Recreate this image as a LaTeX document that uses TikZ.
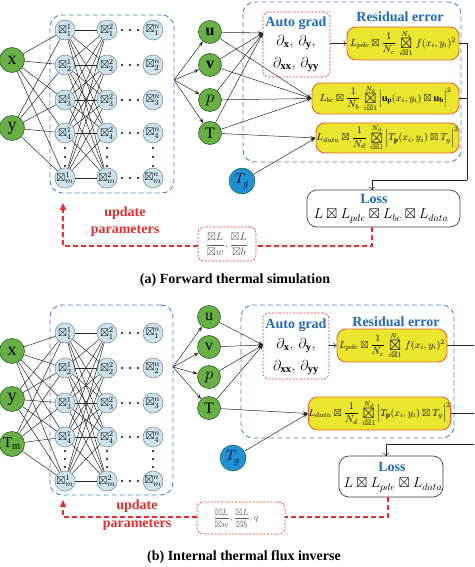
\documentclass[tikz,border=0pt]{standalone}
\usepackage{amsmath,amssymb}
\usepackage{fontspec}
\setmainfont{Liberation Serif}
\usetikzlibrary{arrows.meta,calc}
\definecolor{ngreen}{RGB}{104,176,70}
\definecolor{ngreenD}{RGB}{45,95,35}
\definecolor{nblue}{RGB}{204,228,238}
\definecolor{dblue}{RGB}{70,130,200}
\definecolor{tblue}{RGB}{30,105,185}
\definecolor{tgblue}{RGB}{30,145,215}
\definecolor{yel}{RGB}{234,230,45}
\definecolor{yelB}{RGB}{228,100,45}
\definecolor{rred}{RGB}{226,45,45}
\definecolor{ggray}{RGB}{90,90,90}
\newcommand{\bigbx}{\mathop{\vcenter{\hbox{\scalebox{1.5}{$\boxtimes$}}}}\limits}
\begin{document}
\begin{tikzpicture}[x=1pt,y=-1pt,
  innode/.style={circle,fill=ngreen,draw=ngreenD,line width=0.6pt,minimum size=25pt,inner sep=0pt,font=\fontsize{18}{18}\selectfont},
  outnode/.style={circle,fill=ngreen,draw=ngreenD,line width=0.6pt,minimum size=23pt,inner sep=0pt,font=\fontsize{16}{16}\selectfont},
  hid/.style={circle,fill=nblue,draw=gray,line width=0.5pt,minimum size=20pt,inner sep=0pt,font=\fontsize{11}{11}\selectfont},
  tgnode/.style={circle,fill=tgblue,draw=ngreenD,line width=0.5pt,minimum size=26pt,inner sep=0pt,font=\fontsize{14}{14}\selectfont},
  res/.style={rounded corners=9pt,fill=yel,draw=yelB,line width=0.9pt,inner sep=0pt,font=\fontsize{10}{12}\selectfont},
  grp/.style={draw=dblue,dash pattern=on 5pt off 3pt,rounded corners=12pt,line width=0.9pt},
  agbox/.style={draw=rred,dash pattern=on 2pt off 1.5pt,rounded corners=6pt,line width=0.6pt,inner sep=0pt},
  lossbox/.style={draw=black!75,rounded corners=10pt,line width=0.7pt,inner sep=0pt},
  conn/.style={draw=black!85,line width=0.5pt},
  arr/.style={conn,-{Stealth[length=5pt,width=3.5pt]}},
  fb/.style={draw=rred,dash pattern=on 5pt off 3pt,line width=1.3pt},
  bluetxt/.style={text=tblue,font=\fontsize{14}{14}\selectfont\bfseries},
  redtxt/.style={text=rred,font=\fontsize{14}{14}\selectfont\bfseries},
  captxt/.style={font=\fontsize{14}{14}\selectfont\bfseries},
  dtxt/.style={font=\fontsize{15}{15}\selectfont,inner sep=0pt}
]
\useasboundingbox (0,0) rectangle (474,567);

%%%%%%%%%%%%%%%% (a) %%%%%%%%%%%%%%%%
\node[grp,minimum width=124pt,minimum height=178pt] (hbA) at (112,104) {};
\draw[grp] (243,2) rectangle (461,162);
\node[innode] (inAx) at (12,60) {x};
\node[innode] (inAy) at (12,128) {y};
\foreach \c/\cx/\colsup in {1/65/1,2/107/2,3/153/n}{
  \foreach \r/\ry/\rowsub in {1/30/1,2/65/2,3/100/3,4/133/4,5/178/m}{
    \node[hid] (hA\c\r) at (\cx,\ry) {$\boxtimes^{\colsup}_{\rowsub}$};
  }
  \foreach \dy in {148,157,166}{\fill (\cx,\dy) circle (1.1pt);}
}
\foreach \ry in {30,65,100,133,178}{\foreach \dx in {122,130,138}{\fill (\dx,\ry) circle (1.1pt);}}
\foreach \i in {x,y}{\foreach \r in {1,...,5}{\draw[conn] (inA\i) -- (hA1\r);}}
\foreach \r in {1,...,5}{\foreach \s in {1,...,5}{\draw[conn] (hA1\r) -- (hA2\s);}}

\node[outnode] (oAu) at (210,32) {$\mathbf{u}$};
\node[outnode] (oAv) at (210,65) {$\mathbf{v}$};
\node[outnode] (oAp) at (210,100) {$p$};
\node[outnode] (oAT) at (210,133) {T};
\coordinate (fanA) at (174,80);
\foreach \o in {u,v,p,T}{\draw[arr] (fanA) -- (oA\o);}

\node[agbox,minimum width=67pt,minimum height=65pt] (agA) at (296.5,44.5) {};
\node[bluetxt] (agtA) at (296,23) {Auto grad};
\node[dtxt] (d1A) at (296,43) {$\partial_{\mathbf{x}},\,\partial_{\mathbf{y}},$};
\node[dtxt] (d2A) at (296,65) {$\partial_{\mathbf{xx}},\,\partial_{\mathbf{yy}}$};
\node[bluetxt] (retA) at (400,17) {Residual error};
\node[res,minimum width=112pt,minimum height=33pt] (pdeA) at (403,43.5)
  {$L_{pde}\boxtimes\dfrac{1}{N_c}\,\bigbx_{i\boxtimes1}^{N_c}\,f(x_i,y_i)^2$};
\node[res,minimum width=147pt,minimum height=31pt] (bcA) at (385.5,98.5)
  {$L_{bc}\boxtimes\dfrac{1}{N_b}\,\bigbx_{i\boxtimes1}^{N_b}\,\Bigl|\mathbf{u_p}(x_i,y_i)\boxtimes\mathbf{u_b}\Bigr|^2$};
\node[res,minimum width=143pt,minimum height=30pt] (dataA) at (387.5,138)
  {$L_{data}\boxtimes\dfrac{1}{N_d}\,\bigbx_{i\boxtimes1}^{N_d}\,\Bigl|T_{\mathbf{p}}(x_i,y_i)\boxtimes T_g\Bigr|^2$};
\node[tgnode] (tgA) at (242,181) {$T_g$};

\coordinate (agInA) at (263,33);
\foreach \o in {u,v,p,T}{\draw[arr] (oA\o) -- (agInA);}
\foreach \o in {u,v,p,T}{\draw[arr] (oA\o) -- (bcA.west);}
\draw[arr] (oAT) -- (dataA.west);
\draw[arr] (tgA) -- (dataA.west);
\draw[conn,-{To[length=3pt]}] (agA.east |- pdeA.west) -- (pdeA.west);

\node[lossbox,minimum width=153pt,minimum height=37pt] (lossA) at (383.5,208.5) {};
\node[bluetxt] (losstA) at (374,199) {Loss};
\node[font=\fontsize{14}{14}\selectfont,inner sep=0pt] (lossfA) at (381,216) {$L\boxtimes L_{pde}\boxtimes L_{bc}\boxtimes L_{data}$};
\coordinate (busA) at (467,180);
\coordinate (lossInA) at (372,190);
\draw[conn] (pdeA.east) -| (busA);
\draw[conn] (bcA.east) -- (bcA.east -| busA);
\draw[conn,-{To[length=3pt]}] (busA) -| (lossInA);

\node[agbox,minimum width=58pt,minimum height=34pt,text=ggray,font=\fontsize{11}{11}\selectfont] (gA) at (227,244)
  {$\dfrac{\boxtimes L}{\boxtimes w},\dfrac{\boxtimes L}{\boxtimes b}$};
\coordinate (fbA1) at (372,246);
\coordinate (fbA2) at (63,246);
\coordinate (fbA3) at (63,203);
\draw[fb] (lossA.south -| fbA1) -- (fbA1) -- (gA.east |- fbA1);
\draw[fb] (gA.west |- fbA2) -- (fbA2) -- ($(fbA3)+(0,5)$);
\fill[rred] (fbA3) -- ++(-3.2,7) -- ++(6.4,0) -- cycle;
\node[redtxt] (upA) at (125,213) {update};
\node[redtxt] (parA) at (125,231) {parameters};
\node[captxt] (capA) at (235,280) {(a) Forward thermal simulation};

%%%%%%%%%%%%%%%% (b) %%%%%%%%%%%%%%%%
\node[grp,minimum width=123pt,minimum height=190pt] (hbB) at (111.5,400) {};
\draw[grp] (241,305) rectangle (454,438);
\node[innode] (inBx) at (12,351) {x};
\node[innode] (inBy) at (12,399) {y};
\node[innode,font=\fontsize{15}{15}\selectfont] (inBT) at (12,444) {T\textsubscript{m}};
\foreach \c/\cx/\colsup in {1/65/1,2/107/2,3/153/n}{
  \foreach \r/\ry/\rowsub in {1/333/1,2/368/2,3/403/3,4/437/4,5/481/m}{
    \node[hid] (hB\c\r) at (\cx,\ry) {$\boxtimes^{\colsup}_{\rowsub}$};
  }
  \foreach \dy in {451,459,467}{\fill (\cx,\dy) circle (1.1pt);}
}
\foreach \ry in {333,368,403,437,481}{\foreach \dx in {122,130,138}{\fill (\dx,\ry) circle (1.1pt);}}
\foreach \i in {x,y,T}{\foreach \r in {1,...,5}{\draw[conn] (inB\i) -- (hB1\r);}}
\foreach \r in {1,...,5}{\foreach \s in {1,...,5}{\draw[conn] (hB1\r) -- (hB2\s);}}

\node[outnode] (oBu) at (209,317) {u};
\node[outnode] (oBv) at (209,347) {v};
\node[outnode] (oBp) at (209,377) {$p$};
\node[outnode] (oBT) at (209,408) {T};
\coordinate (fanB) at (173,367);
\foreach \o in {u,v,p,T}{\draw[arr] (fanB) -- (oB\o);}

\node[agbox,minimum width=66pt,minimum height=66pt] (agB) at (296,346) {};
\node[bluetxt] (agtB) at (296,325) {Auto grad};
\node[dtxt] (d1B) at (296,346) {$\partial_{\mathbf{x}},\,\partial_{\mathbf{y}},$};
\node[dtxt] (d2B) at (296,368) {$\partial_{\mathbf{xx}},\,\partial_{\mathbf{yy}}$};
\node[bluetxt] (retB) at (396,322) {Residual error};
\node[res,minimum width=110pt,minimum height=33pt] (pdeB) at (392,345.5)
  {$L_{pde}\boxtimes\dfrac{1}{N_c}\,\bigbx_{i\boxtimes1}^{N_c}\,f(x_i,y_i)^2$};
\node[res,minimum width=135pt,minimum height=33pt] (dataB) at (379.5,413.5)
  {$L_{data}\boxtimes\dfrac{1}{N_d}\,\bigbx_{i\boxtimes1}^{N_d}\,\Bigl|T_{\mathbf{p}}(x_i,y_i)\boxtimes T_g\Bigr|^2$};
\node[tgnode] (tgB) at (233,458) {$T_g$};

\coordinate (agInB) at (263,345);
\foreach \o in {u,v,p,T}{\draw[arr] (oB\o) -- (agInB);}
\draw[arr] (oBT) -- (dataB.west);
\draw[arr] (tgB) -- (dataB.west);
\draw[conn,-{To[length=3pt]}] (agB.east |- pdeB.west) -- (pdeB.west);

\node[lossbox,minimum width=104pt,minimum height=41pt] (lossB) at (391,476.5) {};
\node[bluetxt] (losstB) at (392,467) {Loss};
\node[font=\fontsize{14}{14}\selectfont,inner sep=0pt] (lossfB) at (393,485) {$L\boxtimes L_{pde}\boxtimes L_{data}$};
\coordinate (busB) at (474,444);
\coordinate (lossInB) at (386,456);
\draw[conn] (pdeB.east) -- (pdeB.east -| busB);
\draw[conn] (dataB.east) -- (dataB.east -| busB);
\draw[conn,-{To[length=3pt]}] (busB) -| (lossInB);

\node[agbox,minimum width=88pt,minimum height=32pt] (gB) at (241,518) {};
\node[text=ggray,font=\fontsize{9}{9}\selectfont,inner sep=0pt] (gtB) at (236,518)
  {$\dfrac{\boxtimes L}{\boxtimes w},\dfrac{\boxtimes L}{\boxtimes b},q$};
\coordinate (fbB1) at (388,517);
\coordinate (fbB2) at (63,517);
\coordinate (fbB3) at (63,500);
\draw[fb] (lossB.south -| fbB1) -- (fbB1) -- (gB.east |- fbB1);
\draw[fb] (gB.west |- fbB2) -- (fbB2) -- ($(fbB3)+(0,5)$);
\fill[rred] (fbB3) -- ++(-3.2,7) -- ++(6.4,0) -- cycle;
\node[redtxt] (upB) at (137,506) {update};
\node[redtxt] (parB) at (137,525) {parameters};
\node[captxt] (capB) at (244,557) {(b) Internal thermal flux inverse};
\end{tikzpicture}
\end{document}
